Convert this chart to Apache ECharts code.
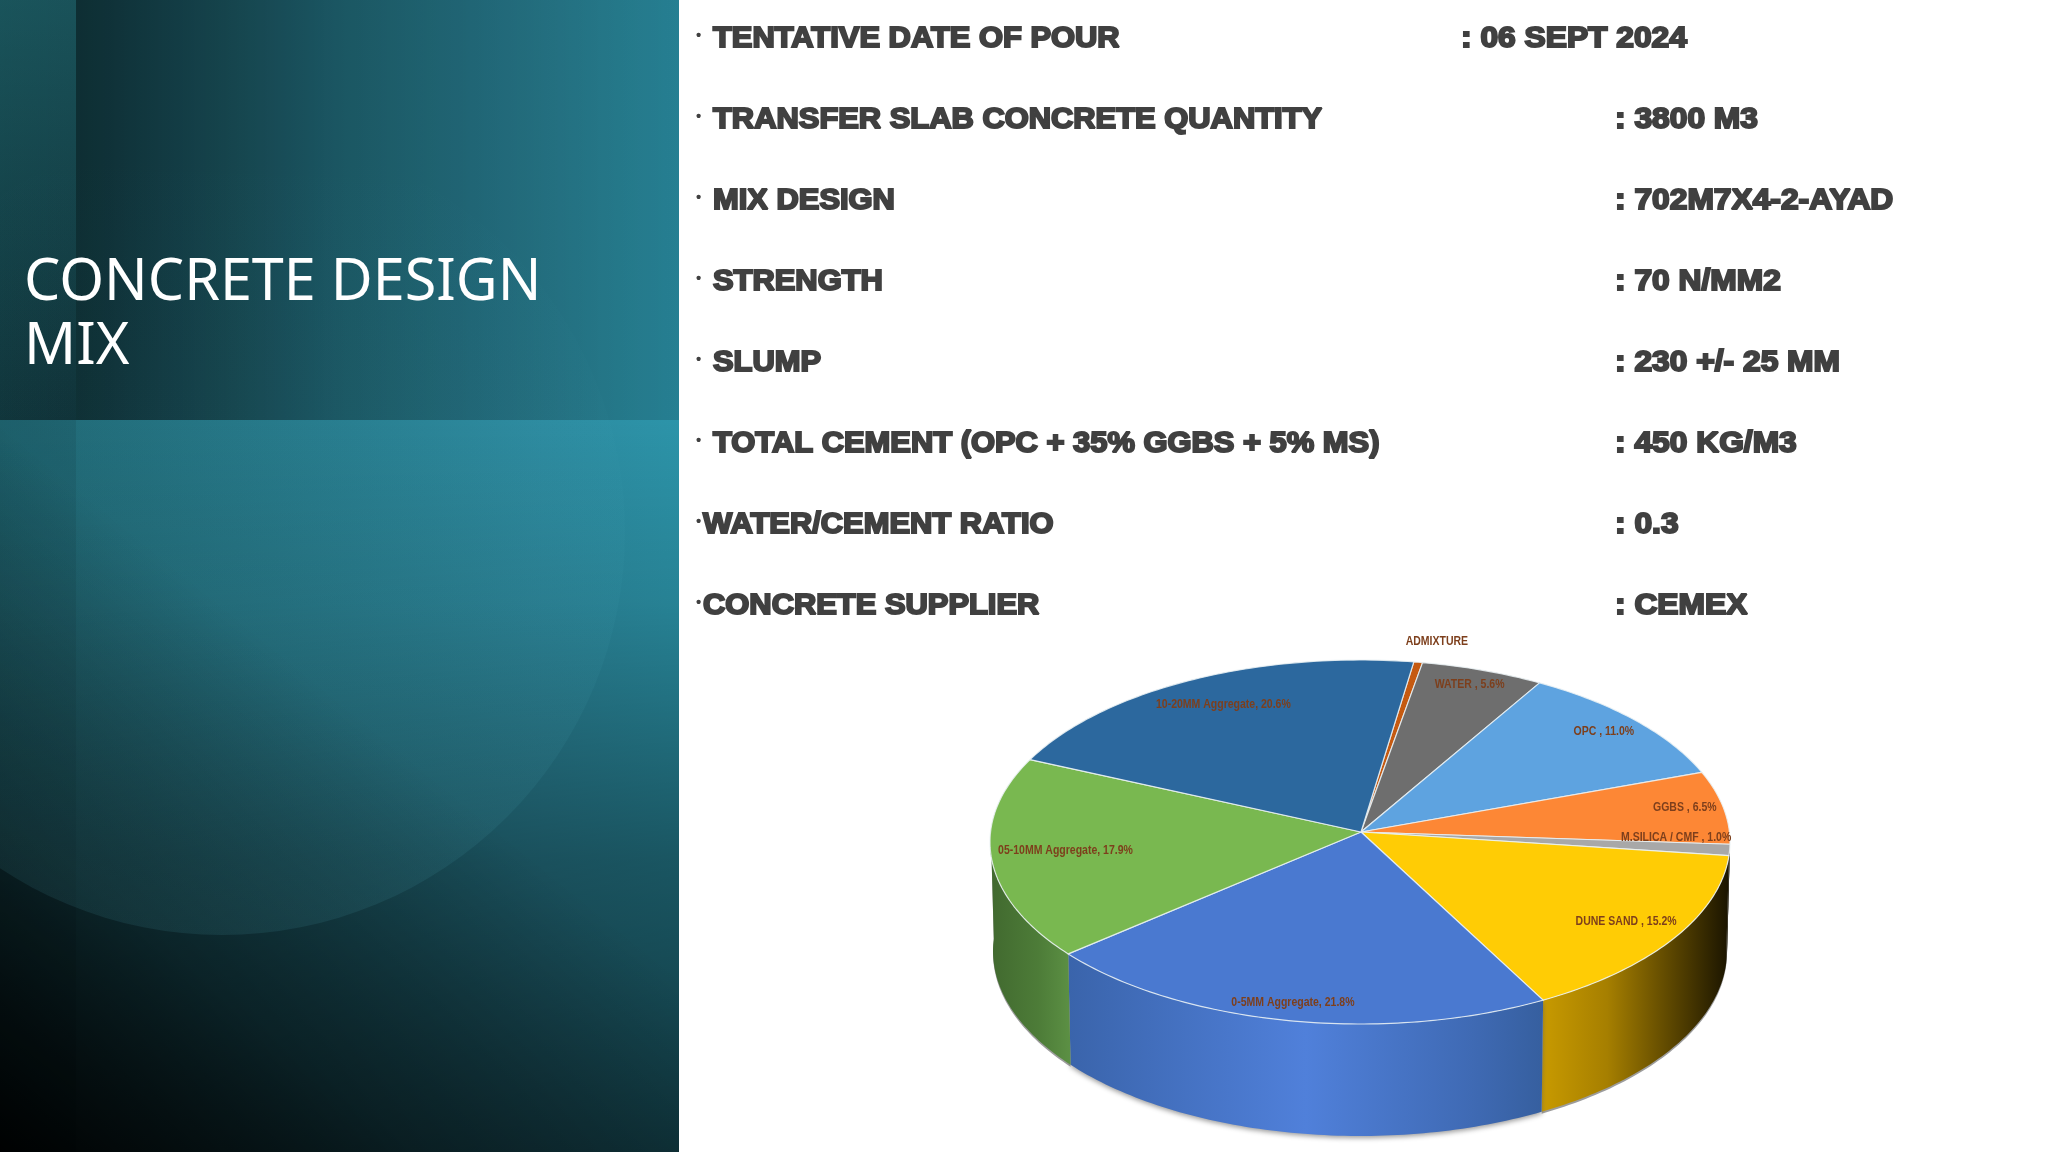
<!DOCTYPE html>
<html><head><meta charset="utf-8">
<style>html,body{margin:0;padding:0;background:#fff}#c{width:2048px;height:1152px}</style>
<script src="https://cdn.jsdelivr.net/npm/echarts@6/dist/echarts.min.js"></script>
</head><body><div id="c"></div>
<script>
const titleLines = ['CONCRETE DESIGN', 'MIX'];
const rowLabels = ['TENTATIVE DATE OF POUR','TRANSFER SLAB CONCRETE QUANTITY','MIX DESIGN','STRENGTH','SLUMP','TOTAL CEMENT (OPC + 35% GGBS + 5% MS)','WATER/CEMENT RATIO','CONCRETE SUPPLIER'];
const rowValues = [': 06 SEPT 2024',': 3800 M3',': 702M7X4-2-AYAD',': 70 N/MM2',': 230 +/- 25 MM',': 450 KG/M3',': 0.3',': CEMEX'];
const sliceNames = ['ADMIXTURE','WATER','OPC','GGBS','M.SILICA / CMF','DUNE SAND','0-5MM Aggregate','05-10MM Aggregate','10-20MM Aggregate'];
const sliceValues = [0.4,5.6,11.0,6.5,1.0,15.2,21.8,17.9,20.6];
const sliceLabels = ['ADMIXTURE','WATER , 5.6%','OPC , 11.0%','GGBS , 6.5%','M.SILICA / CMF , 1.0%','DUNE SAND , 15.2%','0-5MM Aggregate, 21.8%','05-10MM Aggregate, 17.9%','10-20MM Aggregate, 20.6%'];
const sliceColors = ['#c55a11','#6e6e6e','#5ea3e0','#fd8735','#a8a8a8','#ffcc05','#4a79d0','#79b850','#2c689e'];
const labelNudge = [[24,-20],[-11,15],[-35,9],[-40,-4],[-53,-17],[-44,-20],[-5,-19],[71,-20],[46,21]];
const wallStops = {
  3:[[0,'#1a1400'],[1,'#1a1400']],4:[[0,'#1a1400'],[1,'#1a1400']],
  5:[[0,'#1a1400'],[0.3,'#5a4500'],[0.65,'#a67f00'],[1,'#c89a00']],
  6:[[0,'#365f9f'],[0.15,'#3f6ab4'],[0.5,'#5080da'],[1,'#3a64ab']],
  7:[[0,'#5c9044'],[0.4,'#4d7c38'],[1,'#41692f']]
};
const pie = {cx:1360, cy:842, ax:1361, ay:832, rx:370, ry:182, depth:109, start:7.5, baseRx:367, baseRy:185};
const total = sliceValues.reduce((a,b)=>a+b,0);
function bounds(i){
  let s = pie.start;
  for(let k=0;k<i;k++) s += sliceValues[k]/total*360;
  return [s, s+sliceValues[i]/total*360];
}
// the photographed pie is in perspective: apparent angles drift slightly round the rim
function view(a){ return (a + 1.2 - 2.6*Math.sin(a*Math.PI/180))*Math.PI/180; }
function rim(a){
  const r=view(a);
  return [pie.cx+pie.rx*Math.sin(r), pie.cy-pie.ry*Math.cos(r)];
}
function baseRim(a){
  const r=view(a);
  return [pie.cx+pie.baseRx*Math.sin(r), pie.cy+pie.depth-pie.baseRy*Math.cos(r)];
}
function arc(a,b,fn){
  const pts=[], n=Math.max(2,Math.ceil(Math.abs(b-a)));
  for(let k=0;k<=n;k++) pts.push(fn(a+(b-a)*k/n));
  return pts;
}
function renderWall(params,api){
  const i=params.dataIndex, b=bounds(api.value(0)), a1=Math.max(b[0],90), a2=Math.min(b[1],270);
  if(a2<=a1 || !wallStops[i]) return {type:'group',children:[]};
  const pts=arc(a1,a2,rim).concat(arc(a2,a1,baseRim));
  return {type:'polygon',shape:{points:pts},style:{
    fill:{type:'linear',x:1,y:0,x2:0,y2:0,colorStops:wallStops[i].map(s=>({offset:s[0],color:s[1]}))},
    shadowBlur:i===6?5:0,shadowColor:'rgba(90,90,90,0.6)',shadowOffsetY:2}};
}
function renderTop(params,api){
  const i=params.dataIndex, b=bounds(api.value(0));
  const mr=(b[0]+b[1])/2*Math.PI/180, n=labelNudge[i];
  const lx=pie.cx+pie.rx*Math.sin(mr)+n[0], ly=pie.cy-pie.ry*Math.cos(mr)+n[1];
  return {type:'group',children:[
    {type:'polygon',shape:{points:[[pie.ax,pie.ay]].concat(arc(b[0],b[1],rim))},
     style:{fill:sliceColors[i],stroke:'rgba(235,242,245,0.85)',lineWidth:1.2,lineJoin:'round'}},
    {type:'text',z2:10,x:lx,y:ly,scaleX:0.84,style:{text:sliceLabels[i],x:0,y:0,align:'center',verticalAlign:'middle',
      textAlign:'center',textVerticalAlign:'middle',
      font:'bold 12.5px "Liberation Sans",sans-serif',fill:'#7d3f1c'}}
  ]};
}
const P=679, B=420;
const black=(a)=>`rgba(0,0,0,${a})`;
const teal=(a)=>`rgba(90,190,205,${a})`;
const panel=[
 {type:'rect',shape:{x:0,y:0,width:P,height:1152},style:{fill:{type:'linear',x:0,y:0,x2:1,y2:0,colorStops:[{offset:0,color:'#1f6672'},{offset:0.8,color:'#2d8ba0'},{offset:1,color:'#2c94a9'}]}}},
 {type:'rect',shape:{x:0,y:B,width:P,height:1152-B},style:{fill:{type:'linear',x:0,y:0,x2:0,y2:1,colorStops:[{offset:0,color:black(0)},{offset:0.25,color:black(0.12)},{offset:0.6,color:black(0.42)},{offset:1,color:black(0.62)}]}}},
 {type:'rect',shape:{x:0,y:B,width:P,height:1152-B},style:{fill:{type:'linear',x:0,y:1,x2:0.7,y2:0.2,colorStops:[{offset:0,color:black(0.95)},{offset:0.35,color:black(0.4)},{offset:0.75,color:black(0)},{offset:1,color:black(0)}]}}},
 {type:'rect',shape:{x:0,y:0,width:P,height:B},style:{fill:{type:'linear',x:0,y:0,x2:1,y2:0,colorStops:[{offset:0,color:black(0.5)},{offset:0.12,color:black(0.55)},{offset:0.5,color:black(0.28)},{offset:1,color:black(0.1)}]}}},
 {type:'rect',shape:{x:0,y:0,width:76,height:B},style:{fill:{type:'linear',x:0,y:0,x2:0,y2:1,colorStops:[{offset:0,color:'rgba(50,160,170,0.3)'},{offset:1,color:'rgba(50,160,170,0)'}]}}},
 {type:'rect',shape:{x:76,y:0,width:P-76,height:B},style:{fill:black(0.04)}},
 {type:'rect',shape:{x:0,y:B,width:76,height:1152-B},style:{fill:black(0.08)}},
 {type:'circle',shape:{cx:222,cy:532,r:403},style:{fill:{type:'linear',x:0,y:0,x2:0,y2:1,colorStops:[{offset:0,color:teal(0)},{offset:0.4,color:teal(0.02)},{offset:0.75,color:teal(0.07)},{offset:1,color:teal(0.11)}]}}}
].map(e=>Object.assign(e,{silent:true,z:0}));
const textEls=[];
titleLines.forEach((t,i)=>textEls.push({type:'text',z:1,style:{text:t,x:24,y:284+i*64,font:'400 57.5px "Noto Sans",sans-serif',fill:'#ffffff',textVerticalAlign:'middle',verticalAlign:'middle'}}));
const heavy='bold 29px "Liberation Sans",sans-serif';
rowLabels.forEach((t,i)=>{
  const y=38.5+i*81, x=i<6?713:703;
  textEls.push({type:'text',z:1,style:{text:'\u2022',x:696,y:y-3,font:'bold 15px "Liberation Sans",sans-serif',fill:'#404040',textVerticalAlign:'middle',verticalAlign:'middle'}});
  textEls.push({type:'text',z:1,x:x,y:y,scaleX:1.065,style:{text:t,x:0,y:0,font:heavy,fill:'#404040',stroke:'#404040',lineWidth:2,textVerticalAlign:'middle',verticalAlign:'middle'}});
  textEls.push({type:'text',z:1,x:i===0?1461:1615,y:y,scaleX:1.095,style:{text:rowValues[i],x:0,y:0,font:heavy,fill:'#404040',stroke:'#404040',lineWidth:2,textVerticalAlign:'middle',verticalAlign:'middle'}});
});
const chart=echarts.init(document.getElementById('c'),null,{renderer:'canvas',width:2048,height:1152});
const rows=sliceValues.map((v,i)=>({name:sliceNames[i],value:[i,v]}));
chart.setOption({
  animation:false,backgroundColor:'#ffffff',
  tooltip:{show:false},
  graphic:{elements:panel.concat(textEls)},
  series:[
    {type:'custom',coordinateSystem:'none',silent:true,z:2,data:rows,renderItem:renderWall},
    {type:'custom',coordinateSystem:'none',silent:true,z:3,data:rows,renderItem:renderTop}
  ]
});
</script></body></html>
